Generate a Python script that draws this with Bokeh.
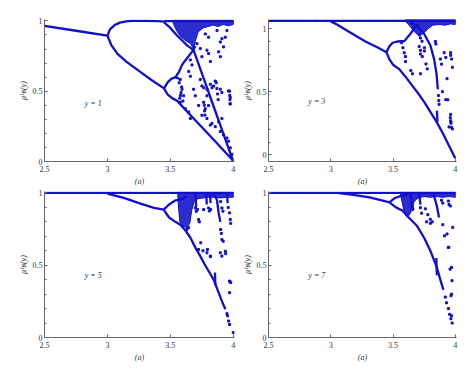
from bokeh.plotting import figure
from bokeh.layouts import gridplot
from bokeh.models import FixedTicker, Range1d
from bokeh.core.properties import value
from bokeh.embed import file_html
from bokeh.resources import INLINE

BLUE = "#1010c8"
FONT = "Liberation Serif"

X_TICKS = [2.5, 3.0, 3.5, 4.0]
X_LABELS = {2.5: "2.5", 3.0: "3", 3.5: "3.5", 4.0: "4"}
Y_TICKS = [0.0, 0.5, 1.0]
Y_LABELS = {0.0: "0", 0.5: "0.5", 1.0: "1"}
Y_MINOR = [0.1, 0.2, 0.3, 0.4, 0.6, 0.7, 0.8, 0.9]
PANEL_LABELS = ["y = 1", "y = 3", "y = 5", "y = 7"]

# ---------------- panel 1 (y = 1) ----------------
P1_LINES_A = [
    [2.5, 2.75, 3.0],
    [3.0, 3.02, 3.06, 3.1, 3.15, 3.2, 3.3, 3.4, 3.45],
    [3.0, 3.03, 3.08, 3.15, 3.25, 3.35, 3.45],
    [3.45, 3.48, 3.51, 3.54, 3.57],
    [3.45, 3.48, 3.52, 3.553, 3.7, 3.8, 3.9, 4.0],
    [3.45, 3.5, 3.553, 3.6, 3.633, 3.685, 3.75, 3.85, 3.95, 4.0],
    [3.54, 3.57, 3.593, 3.62, 3.672, 3.7],
    [3.45, 4.0],
]
P1_LINES_MU = [
    [0.965, 0.93, 0.895],
    [0.895, 0.94, 0.972, 0.988, 0.996, 1.0, 1.0, 0.998, 0.995],
    [0.895, 0.83, 0.765, 0.71, 0.645, 0.58, 0.52],
    [0.52, 0.565, 0.59, 0.598, 0.59],
    [0.52, 0.475, 0.447, 0.433, 0.292, 0.197, 0.101, 0.005],
    [0.99, 0.95, 0.896, 0.855, 0.826, 0.792, 0.629, 0.377, 0.126, 0.0],
    [0.598, 0.64, 0.6875, 0.72, 0.78, 0.82],
    [0.998, 0.998],
]
P1_BAND_A = [3.52, 3.55, 3.58, 3.62, 3.66, 3.685, 3.70, 3.72, 3.76, 3.80, 3.84, 3.88, 3.92, 3.96, 4.0, 4.0, 3.52]
P1_BAND_MU = [0.99, 0.93, 0.89, 0.86, 0.84, 0.80, 0.86, 0.92, 0.95, 0.96, 0.97, 0.96, 0.975, 0.965, 0.975, 1.005, 1.005]
P1_DOTS_A = [3.712, 3.738, 3.791, 3.804, 3.751, 3.818, 3.897, 3.910, 3.923, 3.884, 3.897, 3.937, 3.950, 3.871, 3.778, 3.804,
             3.659, 3.672, 3.646, 3.659, 3.579, 3.593, 3.606, 3.579, 3.619, 3.646, 3.659,
             3.738, 3.751, 3.765, 3.791, 3.818, 3.831, 3.844, 3.857, 3.897, 3.910, 3.963, 3.976, 3.976,
             3.765, 3.778, 3.751, 3.791, 3.818, 3.831, 3.857, 3.884, 3.910, 3.897, 3.923, 3.950, 3.963, 3.976, 3.990,
             3.685, 3.698, 3.725, 3.791, 3.804, 3.575, 3.585, 3.59, 3.57, 3.6, 3.58,
             3.865, 3.87, 3.875, 3.88, 3.97, 3.972, 3.974, 3.975, 3.77, 3.772, 3.775]
P1_DOTS_MU = [0.838, 0.803, 0.792, 0.768, 0.745, 0.711, 0.850, 0.873, 0.815, 0.780, 0.745, 0.884, 0.931, 0.931, 0.907, 0.884,
              0.722, 0.687, 0.641, 0.606, 0.583, 0.514, 0.467, 0.421, 0.375, 0.352, 0.306,
              0.583, 0.537, 0.525, 0.514, 0.549, 0.525, 0.537, 0.572, 0.514, 0.491, 0.502, 0.456, 0.410,
              0.421, 0.375, 0.329, 0.306, 0.259, 0.271, 0.248, 0.282, 0.306, 0.213, 0.190, 0.167, 0.144, 0.097, 0.051,
              0.514, 0.467, 0.398, 0.467, 0.398, 0.45, 0.49, 0.53, 0.56, 0.43, 0.47,
              0.56, 0.52, 0.48, 0.44, 0.50, 0.47, 0.44, 0.41, 0.40, 0.36, 0.33]

# ---------------- panel 2 (y = 3) ----------------
P2_LINES_A = [
    [2.5, 4.0],
    [3.0, 3.05, 3.143, 3.275, 3.381, 3.447],
    [3.447, 3.47, 3.497, 3.54, 3.593, 3.633, 3.672, 3.7],
    [3.447, 3.47, 3.5, 3.55, 3.6, 3.65, 3.7, 3.75, 3.8, 3.85, 3.9, 3.95, 4.0],
    [3.64, 3.7, 3.75, 3.8, 3.83, 3.85, 3.86],
    [3.853, 3.857],
]
P2_LINES_MU = [
    [1.065, 1.065],
    [1.06, 1.035, 0.979, 0.902, 0.850, 0.815],
    [0.815, 0.86, 0.89, 0.9, 0.905, 0.953, 1.005, 1.04],
    [0.815, 0.76, 0.715, 0.68, 0.62, 0.555, 0.49, 0.42, 0.34, 0.26, 0.17, 0.07, -0.03],
    [1.05, 1.02, 0.96, 0.87, 0.76, 0.64, 0.52],
    [0.35, 0.26],
]
P2_BAND_A = [3.6, 3.63, 3.66, 3.69, 3.72, 3.75, 3.78, 3.82, 3.87, 3.92, 3.96, 4.0, 4.0, 3.6]
P2_BAND_MU = [1.06, 1.03, 0.99, 0.96, 0.95, 0.97, 1.0, 1.03, 1.035, 1.03, 1.04, 1.035, 1.075, 1.075]
P2_DOTS_A = [3.57, 3.58, 3.59, 3.60, 3.60, 3.71, 3.72, 3.72, 3.735, 3.643, 3.656, 3.775, 3.88, 3.89, 3.934, 3.94,
             3.96, 3.965, 3.97, 3.95, 3.712, 3.72, 3.733, 3.752, 3.752, 3.765, 3.72, 3.911, 3.924, 3.963, 3.963,
             3.971, 3.977, 3.897, 3.924, 3.963, 3.963, 3.966, 3.977, 3.865, 3.868, 3.87, 3.84, 3.845]
P2_DOTS_MU = [0.89, 0.85, 0.81, 0.78, 0.74, 0.86, 0.83, 0.80, 0.78, 0.669, 0.643, 0.682, 0.76, 0.72, 0.604, 0.436,
              0.294, 0.26, 0.217, 0.22, 0.953, 0.928, 0.902, 0.85, 0.824, 0.721, 0.643, 0.811, 0.773, 0.811, 0.79,
              0.76, 0.695, 0.501, 0.437, 0.32, 0.269, 0.25, 0.204, 0.47, 0.43, 0.40, 0.9, 0.88]

# ---------------- panel 3 (y = 5) ----------------
P3_LINES_A = [
    [2.5, 4.0],
    [3.0, 3.13, 3.263, 3.37, 3.447],
    [3.447, 3.49, 3.542, 3.596, 3.63],
    [3.447, 3.49, 3.54, 3.58, 3.62, 3.66, 3.70, 3.738, 3.77, 3.804, 3.844, 3.884, 3.91, 3.937],
    [3.84, 3.87, 3.884, 3.897],
    [3.855, 3.858],
    [3.70, 3.705],
    [3.785, 3.79],
    [3.815, 3.82],
    [3.95, 3.955],
]
P3_LINES_MU = [
    [1.0, 1.0],
    [0.995, 0.966, 0.926, 0.897, 0.885],
    [0.885, 0.92, 0.949, 0.958, 0.975],
    [0.885, 0.83, 0.80, 0.78, 0.74, 0.69, 0.62, 0.563, 0.51, 0.46, 0.40, 0.31, 0.252, 0.195],
    [1.0, 0.954, 0.862, 0.80],
    [0.45, 0.36],
    [1.0, 0.90],
    [1.0, 0.92],
    [1.0, 0.93],
    [1.0, 0.93],
]
P3_BAND_A = [3.56, 3.575, 3.60, 3.63, 3.655, 3.67, 3.69, 3.72, 3.76, 3.80, 3.85, 3.9, 3.95, 4.0, 4.0, 3.56]
P3_BAND_MU = [0.96, 0.80, 0.77, 0.76, 0.79, 0.88, 0.94, 0.96, 0.965, 0.97, 0.97, 0.965, 0.97, 0.97, 1.005, 1.005]
P3_DOTS_A = [3.699, 3.706, 3.725, 3.715, 3.73, 3.765, 3.804, 3.81, 3.82, 3.91, 3.918, 3.96, 3.971, 3.976, 3.98,
             3.9, 3.9, 3.905, 3.91, 3.92, 3.742, 3.725, 3.76, 3.791, 3.795, 3.818, 3.82, 3.897, 3.91, 3.937, 3.94,
             3.971, 3.98, 3.975, 3.971, 3.632, 3.645, 3.963, 3.971, 4.0, 3.95, 3.955]
P3_DOTS_MU = [0.896, 0.873, 0.816, 0.885, 0.8, 0.885, 0.896, 0.875, 0.885, 0.896, 0.874, 0.9, 0.862, 0.816, 0.79,
              0.94, 0.747, 0.72, 0.678, 0.666, 0.655, 0.609, 0.6, 0.586, 0.609, 0.563, 0.56, 0.586, 0.563, 0.597, 0.58,
              0.39, 0.38, 0.385, 0.31, 0.747, 0.76, 0.114, 0.09, 0.034, 0.165, 0.15]

# ---------------- panel 4 (y = 7) ----------------
P4_LINES_A = [
    [2.5, 4.0],
    [3.048, 3.18, 3.312, 3.418, 3.471],
    [3.471, 3.511, 3.564, 3.617],
    [3.471, 3.524, 3.577, 3.62, 3.69, 3.75, 3.8, 3.85, 3.88, 3.905],
    [3.825, 3.852, 3.87],
    [3.848, 3.852],
    [3.64, 3.66],
    [3.71, 3.72],
]
P4_LINES_MU = [
    [1.0, 1.0],
    [1.0, 0.986, 0.97, 0.947, 0.935],
    [0.935, 0.963, 0.98, 0.99],
    [0.935, 0.9, 0.877, 0.835, 0.775, 0.69, 0.60, 0.49, 0.40, 0.33],
    [0.995, 0.91, 0.83],
    [0.55, 0.43],
    [1.0, 0.875],
    [1.0, 0.92],
]
P4_BAND_A = [3.56, 3.59, 3.615, 3.64, 3.67, 3.7, 3.75, 3.8, 3.85, 3.9, 3.95, 4.0, 4.0, 3.56]
P4_BAND_MU = [0.99, 0.87, 0.83, 0.86, 0.94, 0.965, 0.975, 0.97, 0.975, 0.97, 0.975, 0.97, 1.005, 1.005]
P4_DOTS_A = [3.653, 3.66, 3.72, 3.73, 3.799, 3.80, 3.815, 3.89, 3.90, 3.944, 3.95, 3.96, 3.913, 3.944, 3.934,
             3.948, 3.98, 3.958, 3.97, 3.974, 3.966, 3.969, 3.97, 3.78, 3.76, 3.77, 3.9, 3.92, 3.93, 3.945,
             3.955, 3.965, 3.975]
P4_DOTS_MU = [0.91, 0.89, 0.898, 0.86, 0.818, 0.79, 0.8, 0.95, 0.93, 0.944, 0.92, 0.91, 0.703, 0.623, 0.716,
              0.624, 0.762, 0.473, 0.485, 0.393, 0.289, 0.30, 0.15, 0.85, 0.89, 0.80, 0.78, 0.28, 0.24, 0.2,
              0.16, 0.13, 0.1]


def make_panel(lines_a, lines_mu, band_a, band_mu, dots_a, dots_mu, label, label_mu,
               y_lo, y_hi, w, h, left, right, top, bottom):
    p = figure(width=w, height=h, output_backend="svg", toolbar_location=None,
               x_range=Range1d(2.5, 4.01), y_range=Range1d(y_lo, y_hi),
               min_border_left=left, min_border_right=right,
               min_border_top=top, min_border_bottom=bottom)
    p.outline_line_color = None
    p.grid.visible = False
    p.background_fill_color = "white"
    p.border_fill_color = "white"

    p.patch(band_a, band_mu, fill_color=BLUE, fill_alpha=0.88, line_color=BLUE, line_width=1)
    p.multi_line(xs=lines_a, ys=lines_mu, line_color=BLUE, line_width=2.3)
    p.scatter(dots_a, dots_mu, marker="square", size=2.0, color=BLUE)
    p.text(x=[2.82], y=[label_mu], text=[label], text_font=value(FONT),
           text_font_style="italic", text_font_size="8px", text_color="#333333",
           text_baseline="middle", text_align="left")

    p.xaxis.ticker = FixedTicker(ticks=X_TICKS)
    p.xaxis.major_label_overrides = X_LABELS
    p.yaxis.ticker = FixedTicker(ticks=Y_TICKS, minor_ticks=Y_MINOR)
    p.yaxis.major_label_overrides = Y_LABELS
    for ax in (p.xaxis[0], p.yaxis[0]):
        ax.axis_line_color = "#666666"
        ax.major_tick_line_color = "#666666"
        ax.minor_tick_line_color = "#666666"
        ax.major_tick_in = 3
        ax.major_tick_out = 0
        ax.minor_tick_in = 2
        ax.minor_tick_out = 0
        ax.major_label_text_font = FONT
        ax.major_label_text_font_size = "8px"
        ax.major_label_text_color = "#333333"
        ax.axis_label_text_font = FONT
        ax.axis_label_text_font_size = "8px"
        ax.axis_label_text_color = "#333333"
        ax.axis_label_text_font_style = "italic"
    p.xaxis.minor_tick_line_color = None
    p.xaxis.axis_label = "(a)"
    p.xaxis.major_label_standoff = 4
    p.xaxis.axis_label_standoff = 2
    p.yaxis.axis_label = "μ¹ʙ(y)"
    p.yaxis.major_label_standoff = 2
    p.yaxis.axis_label_standoff = 2
    return p


p1 = make_panel(P1_LINES_A, P1_LINES_MU, P1_BAND_A, P1_BAND_MU, P1_DOTS_A, P1_DOTS_MU,
                PANEL_LABELS[0], 0.41, 0.0, 1.01, 237, 188, 44, 3, 19, 24)
p2 = make_panel(P2_LINES_A, P2_LINES_MU, P2_BAND_A, P2_BAND_MU, P2_DOTS_A, P2_DOTS_MU,
                PANEL_LABELS[1], 0.426, -0.055, 1.075, 229, 188, 29, 10, 19, 23)
p3 = make_panel(P3_LINES_A, P3_LINES_MU, P3_BAND_A, P3_BAND_MU, P3_DOTS_A, P3_DOTS_MU,
                PANEL_LABELS[2], 0.432, 0.0, 1.01, 237, 184, 44, 3, 2, 35)
p4 = make_panel(P4_LINES_A, P4_LINES_MU, P4_BAND_A, P4_BAND_MU, P4_DOTS_A, P4_DOTS_MU,
                PANEL_LABELS[3], 0.428, 0.0, 1.01, 229, 184, 31, 8, 3, 35)

grid = gridplot([[p1, p2], [p3, p4]], toolbar_location=None)

open("out.html", "w").write(file_html(grid, INLINE))
